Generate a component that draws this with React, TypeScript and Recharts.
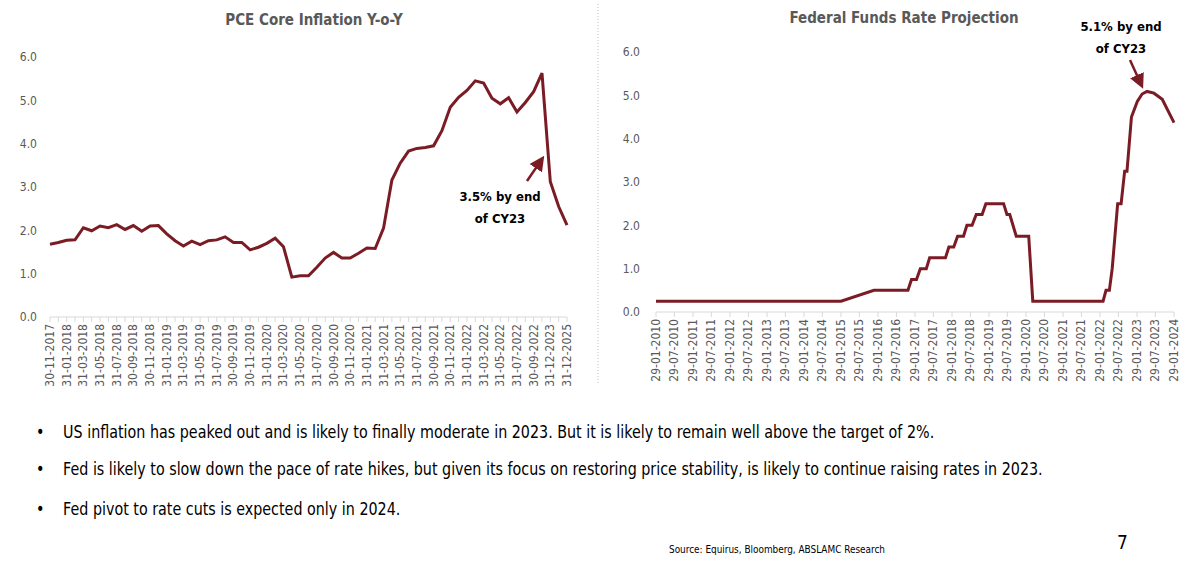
import React from "react";
import { LineChart, Line, XAxis, YAxis } from "recharts";

const MAROON = "#7b1c25";
const GREY_TEXT = "#595959";
const AXIS_GREY = "#d9d9d9";
const FONT = "'DejaVu Sans Condensed', 'DejaVu Sans', sans-serif";

// PCE core inflation, y-o-y (%)
const pceDates = [
  "30-11-2017", "31-12-2017",
  "31-01-2018", "28-02-2018", "31-03-2018", "30-04-2018", "31-05-2018", "30-06-2018",
  "31-07-2018", "31-08-2018", "30-09-2018", "31-10-2018", "30-11-2018", "31-12-2018",
  "31-01-2019", "28-02-2019", "31-03-2019", "30-04-2019", "31-05-2019", "30-06-2019",
  "31-07-2019", "31-08-2019", "30-09-2019", "31-10-2019", "30-11-2019", "31-12-2019",
  "31-01-2020", "29-02-2020", "31-03-2020", "30-04-2020", "31-05-2020", "30-06-2020",
  "31-07-2020", "31-08-2020", "30-09-2020", "31-10-2020", "30-11-2020", "31-12-2020",
  "31-01-2021", "28-02-2021", "31-03-2021", "30-04-2021", "31-05-2021", "30-06-2021",
  "31-07-2021", "31-08-2021", "30-09-2021", "31-10-2021", "30-11-2021", "31-12-2021",
  "31-01-2022", "28-02-2022", "31-03-2022", "30-04-2022", "31-05-2022", "30-06-2022",
  "31-07-2022", "31-08-2022", "30-09-2022", "31-10-2022",
  "31-12-2023", "31-12-2024", "31-12-2025",
];
const pceValues = [
  1.68, 1.72,
  1.77, 1.78, 2.06, 1.99, 2.1, 2.06, 2.13, 2.02, 2.11, 1.98, 2.1, 2.11,
  1.92, 1.76, 1.64, 1.75, 1.67, 1.76, 1.78, 1.85, 1.72, 1.72, 1.55, 1.61,
  1.7, 1.82, 1.62, 0.92, 0.95, 0.95, 1.15, 1.36, 1.49, 1.36, 1.36, 1.47,
  1.59, 1.58, 2.05, 3.16, 3.55, 3.83, 3.89, 3.91, 3.95, 4.3, 4.84, 5.07,
  5.23, 5.45, 5.4, 5.05, 4.92, 5.06, 4.73, 4.95, 5.2, 5.63,
  3.12, 2.55, 2.12,
];

// Federal funds rate (upper bound, %) with projection
const ffDates = [
  "2010-01-29", "2015-01-29", "2015-12-20", "2016-11-20", "2016-12-25",
  "2017-02-12", "2017-03-22", "2017-05-20", "2017-06-22", "2017-11-25",
  "2017-12-29", "2018-02-15", "2018-03-25", "2018-05-22", "2018-06-25",
  "2018-08-15", "2018-09-25", "2018-11-22", "2018-12-29", "2019-06-22",
  "2019-07-25", "2019-08-22", "2019-10-25", "2020-02-25", "2020-04-05",
  "2022-02-28", "2022-03-29", "2022-05-01", "2022-05-29", "2022-07-22",
  "2022-08-25", "2022-09-29", "2022-10-22", "2022-12-05", "2023-02-01",
  "2023-03-20", "2023-05-08", "2023-07-15", "2023-10-05", "2024-01-29",
];
const ffRates = [
  0.25, 0.25, 0.5, 0.5, 0.75,
  0.75, 1.0, 1.0, 1.25, 1.25,
  1.5, 1.5, 1.75, 1.75, 2.0,
  2.0, 2.25, 2.25, 2.5, 2.5,
  2.25, 2.25, 1.75, 1.75, 0.25,
  0.25, 0.5, 0.5, 1.0, 2.5,
  2.5, 3.25, 3.25, 4.5, 4.86,
  5.03, 5.09, 5.05, 4.91, 4.37,
];
const ffTickYears = [2010, 2011, 2012, 2013, 2014, 2015, 2016, 2017, 2018, 2019, 2020, 2021, 2022, 2023, 2024];

const yTicks = [0, 1, 2, 3, 4, 5, 6];

const pceData = pceDates.map((d, i) => ({ date: d, value: pceValues[i] }));
const toTime = (s: string) => {
  const [y, m, d] = s.split("-").map(Number);
  return Date.UTC(y, m - 1, d);
};
const ffData = ffDates.map((d, i) => ({ t: toTime(d), rate: ffRates[i] }));
const ffTicks: number[] = [];
ffTickYears.forEach((y) => {
  ffTicks.push(Date.UTC(y, 0, 29));
  if (y < 2024) ffTicks.push(Date.UTC(y, 6, 29));
});
const fmtFF = (t: number) => {
  const d = new Date(t);
  const mm = String(d.getUTCMonth() + 1).padStart(2, "0");
  return `29-${mm}-${d.getUTCFullYear()}`;
};

const VerticalTick = (props: any) => {
  const { x, y, payload, index, everyOther, formatter } = props;
  if (everyOther && index % 2 === 1) return null;
  const label = formatter ? formatter(payload.value) : payload.value;
  return (
    <text
      x={x}
      y={y}
      transform={`rotate(-90 ${x} ${y})`}
      textAnchor="end"
      dominantBaseline="central"
      fill={GREY_TEXT}
      fontSize={12}
      fontFamily={FONT}
    >
      {label}
    </text>
  );
};

const yTickStyle = { fill: GREY_TEXT, fontSize: 12, fontFamily: FONT };

const titleStyle: React.CSSProperties = {
  position: "absolute",
  fontFamily: FONT,
  fontWeight: "bold",
  fontSize: 15,
  color: GREY_TEXT,
  whiteSpace: "nowrap",
  transform: "translateX(-50%)",
};

const noteStyle: React.CSSProperties = {
  position: "absolute",
  fontFamily: FONT,
  fontWeight: "bold",
  fontSize: 13,
  color: "#000",
  textAlign: "center",
  lineHeight: "22px",
  transform: "translateX(-50%)",
  whiteSpace: "nowrap",
};

const bullets = [
  "US inflation has peaked out and is likely to finally moderate in 2023. But it is likely to remain well above the target of 2%.",
  "Fed is likely to slow down the pace of rate hikes, but given its focus on restoring price stability, is likely to continue raising rates in 2023.",
  "Fed pivot to rate cuts is expected only in 2024.",
];
const bulletTops = [422, 459, 499];

export default function App() {
  return (
    <div style={{ position: "absolute", left: 0, top: 0, width: 1200, height: 563, background: "#fff", overflow: "hidden" }}>
      <div style={{ ...titleStyle, left: 314, top: 11 }}>PCE Core Inflation Y-o-Y</div>
      <div style={{ ...titleStyle, left: 904, top: 9 }}>Federal Funds Rate Projection</div>

      <div style={{ position: "absolute", left: 0, top: 0 }}>
        <LineChart width={598} height={390} data={pceData} margin={{ top: 57, right: 31, bottom: 0, left: 0 }}>
          <XAxis
            dataKey="date"
            interval={0}
            height={73}
            stroke={AXIS_GREY}
            tickSize={5}
            tick={<VerticalTick everyOther />}
          />
          <YAxis
            domain={[0, 6]}
            ticks={yTicks}
            width={50}
            axisLine={false}
            tickLine={false}
            tickSize={0}
            tickMargin={13}
            tickFormatter={(v: number) => v.toFixed(1)}
            tick={yTickStyle}
          />
          <Line
            type="linear"
            dataKey="value"
            stroke={MAROON}
            strokeWidth={3}
            dot={false}
            isAnimationActive={false}
          />
        </LineChart>
      </div>

      <div style={{ position: "absolute", left: 600, top: 0 }}>
        <LineChart width={600} height={390} data={ffData} margin={{ top: 52, right: 26, bottom: 0, left: 0 }}>
          <XAxis
            dataKey="t"
            type="number"
            scale="time"
            domain={[ffTicks[0], ffTicks[ffTicks.length - 1]]}
            ticks={ffTicks}
            interval={0}
            height={78}
            stroke={AXIS_GREY}
            tickSize={5}
            tick={<VerticalTick formatter={fmtFF} />}
          />
          <YAxis
            domain={[0, 6]}
            ticks={yTicks}
            width={56}
            axisLine={false}
            tickLine={false}
            tickSize={0}
            tickMargin={16}
            tickFormatter={(v: number) => v.toFixed(1)}
            tick={yTickStyle}
          />
          <Line
            type="linear"
            dataKey="rate"
            stroke={MAROON}
            strokeWidth={3}
            dot={false}
            isAnimationActive={false}
          />
        </LineChart>
      </div>

      <svg width={1200} height={563} style={{ position: "absolute", left: 0, top: 0, pointerEvents: "none" }}>
        <defs>
          <marker id="head" markerWidth="6" markerHeight="6" refX="3" refY="3" orient="auto" markerUnits="strokeWidth">
            <path d="M0,0 L6,3 L0,6 Z" fill={MAROON} />
          </marker>
        </defs>
        <line x1={598} y1={4} x2={598} y2={385} stroke="#bfbfbf" strokeWidth={1} strokeDasharray="1 2" />
        <line x1={527} y1={181} x2={540} y2={162} stroke={MAROON} strokeWidth={2.5} markerEnd="url(#head)" />
        <line x1={1130} y1={60} x2={1140} y2={82} stroke={MAROON} strokeWidth={2.5} markerEnd="url(#head)" />
      </svg>

      <div style={{ ...noteStyle, left: 500, top: 186 }}>
        3.5% by end
        <br />
        of CY23
      </div>
      <div style={{ ...noteStyle, left: 1121, top: 16 }}>
        5.1% by end
        <br />
        of CY23
      </div>

      {bullets.map((b, i) => (
        <div
          key={i}
          style={{
            position: "absolute",
            left: 36,
            top: bulletTops[i],
            fontFamily: FONT,
            fontSize: 17,
            color: "#000",
            whiteSpace: "nowrap",
            transform: "scaleX(0.935)",
            transformOrigin: "left center",
          }}
        >
          <span style={{ display: "inline-block", width: 29 }}>•</span>
          {b}
        </div>
      ))}

      <div
        style={{
          position: "absolute",
          left: 669,
          top: 543,
          fontFamily: FONT,
          fontSize: 11,
          color: "#000",
          whiteSpace: "nowrap",
          transform: "scaleX(0.9)",
          transformOrigin: "left center",
        }}
      >
        Source: Equirus, Bloomberg, ABSLAMC Research
      </div>
      <div style={{ position: "absolute", left: 1117, top: 531, fontFamily: FONT, fontSize: 19, color: "#000" }}>7</div>
    </div>
  );
}
